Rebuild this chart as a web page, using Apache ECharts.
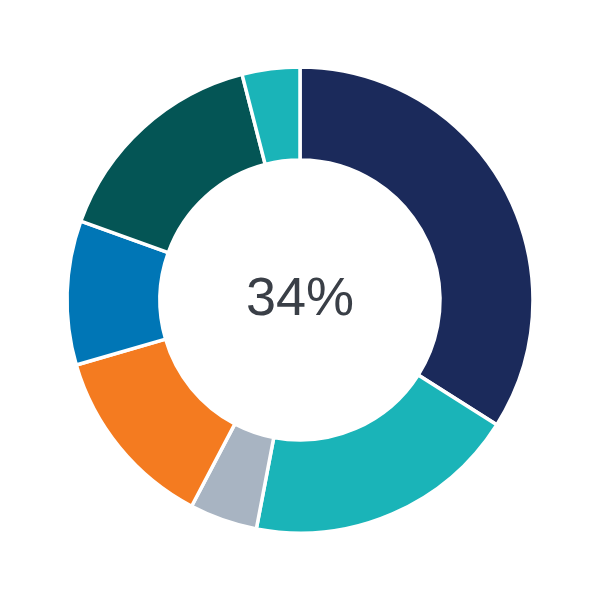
<!DOCTYPE html>
<html>
<head>
<meta charset="utf-8">
<script src="https://cdn.jsdelivr.net/npm/echarts@6/dist/echarts.min.js"></script>
<style>
  html, body { margin: 0; padding: 0; background: #fff; }
  #chart { width: 600px; height: 600px; }
</style>
</head>
<body>
<div id="chart"></div>
<script>
// slice shares, clockwise from 12 o'clock
var names = ['A', 'B', 'C', 'D', 'E', 'F', 'G'];
var values = [34, 19, 4.7, 12.8, 10, 15.5, 4];
var colors = ['#1b2a5b', '#1ab4b8', '#a8b4c2', '#f47b20', '#0076b6', '#045555', '#1ab4b8'];
var centerLabel = '34%';

var myChart = echarts.init(document.getElementById('chart'));

var data = [];
for (var i = 0; i < values.length; i++) {
    data.push({ name: names[i], value: values[i], itemStyle: { color: colors[i] } });
}

var option = {
    animation: false,
    title: {
        text: centerLabel,
        left: 'center',
        top: 268,
        textStyle: {
            fontFamily: 'Liberation Sans',
            fontSize: 54,
            fontWeight: 'normal',
            color: '#3a3f47'
        }
    },
    series: [{
        type: 'pie',
        center: [300, 300],
        radius: [140, 233],
        startAngle: 90,
        clockwise: true,
        label: { show: false },
        labelLine: { show: false },
        itemStyle: { borderColor: '#fff', borderWidth: 3.5 },
        emphasis: { disabled: true },
        data: data
    }]
};
myChart.setOption(option);
</script>
</body>
</html>
